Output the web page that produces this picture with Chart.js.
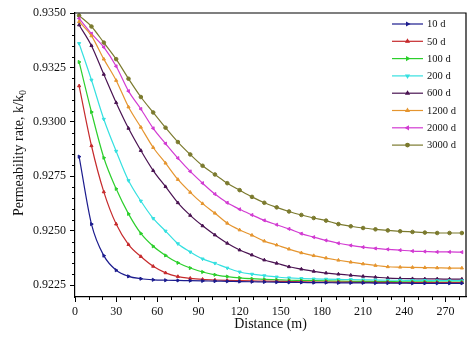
<!DOCTYPE html>
<html>
<head>
<meta charset="utf-8">
<script src="https://cdn.jsdelivr.net/npm/chart.js@4.4.0/dist/chart.umd.min.js"></script>
<style>
html, body { margin: 0; padding: 0; background: #fff; }
</style>
</head>
<body>
<canvas id="chart" width="474" height="341"></canvas>
<script>
// distance along the profile (m)
const distance = [3, 12, 21, 30, 39, 48, 57, 66, 75, 84, 93, 102, 111, 120, 129, 138,
    147, 156, 165, 174, 183, 192, 201, 210, 219, 228, 237, 246, 255, 264, 273, 282];

const seriesNames = ['10 d', '50 d', '100 d', '200 d', '600 d', '1200 d', '2000 d', '3000 d'];

// permeability rate k/k0
const d10 = [0.92840, 0.92530, 0.92385, 0.92318, 0.92290, 0.92279, 0.92274, 0.92272, 0.92271, 0.92270,
    0.92269, 0.92268, 0.92267, 0.92266, 0.92265, 0.92264, 0.92263, 0.92262, 0.92262, 0.92261,
    0.92261, 0.92260, 0.92260, 0.92260, 0.92259, 0.92259, 0.92259, 0.92258, 0.92258, 0.92258, 0.92258, 0.92258];
const d50 = [0.93165, 0.92890, 0.92678, 0.92530, 0.92436, 0.92381, 0.92336, 0.92306, 0.92289, 0.92281,
    0.92276, 0.92273, 0.92271, 0.92270, 0.92269, 0.92268, 0.92267, 0.92266, 0.92265, 0.92264,
    0.92264, 0.92263, 0.92263, 0.92262, 0.92262, 0.92262, 0.92261, 0.92261, 0.92261, 0.92261, 0.92261, 0.92261];
const d100 = [0.93275, 0.93045, 0.92835, 0.92692, 0.92577, 0.92487, 0.92428, 0.92386, 0.92352, 0.92328,
    0.92310, 0.92297, 0.92289, 0.92283, 0.92279, 0.92276, 0.92274, 0.92272, 0.92271, 0.92270,
    0.92269, 0.92268, 0.92267, 0.92267, 0.92266, 0.92266, 0.92265, 0.92265, 0.92265, 0.92264, 0.92264, 0.92264];
const d200 = [0.93360, 0.93192, 0.93012, 0.92865, 0.92730, 0.92636, 0.92556, 0.92498, 0.92440, 0.92402,
    0.92370, 0.92350, 0.92328, 0.92310, 0.92300, 0.92293, 0.92287, 0.92283, 0.92280, 0.92278,
    0.92277, 0.92276, 0.92275, 0.92274, 0.92273, 0.92272, 0.92272, 0.92271, 0.92271, 0.92270, 0.92270, 0.92270];
const d600 = [0.93445, 0.93350, 0.93218, 0.93088, 0.92970, 0.92868, 0.92776, 0.92702, 0.92628, 0.92570,
    0.92522, 0.92480, 0.92442, 0.92411, 0.92388, 0.92365, 0.92350, 0.92334, 0.92323, 0.92313,
    0.92305, 0.92300, 0.92295, 0.92290, 0.92286, 0.92282, 0.92280, 0.92279, 0.92278, 0.92278, 0.92277, 0.92277];
const d1200 = [0.93460, 0.93395, 0.93288, 0.93190, 0.93068, 0.92975, 0.92882, 0.92810, 0.92735, 0.92676,
    0.92624, 0.92580, 0.92534, 0.92503, 0.92479, 0.92452, 0.92434, 0.92415, 0.92398, 0.92385,
    0.92374, 0.92364, 0.92355, 0.92347, 0.92340, 0.92334, 0.92332, 0.92331, 0.92330, 0.92329, 0.92328, 0.92328];
const d2000 = [0.93475, 0.93405, 0.93343, 0.93255, 0.93141, 0.93059, 0.92970, 0.92900, 0.92833, 0.92772,
    0.92718, 0.92668, 0.92628, 0.92598, 0.92572, 0.92547, 0.92527, 0.92508, 0.92486, 0.92470,
    0.92455, 0.92442, 0.92432, 0.92424, 0.92418, 0.92414, 0.92410, 0.92406, 0.92404, 0.92402, 0.92402, 0.92401];
const d3000 = [0.93488, 0.93438, 0.93364, 0.93288, 0.93198, 0.93114, 0.93043, 0.92973, 0.92907, 0.92850,
    0.92798, 0.92758, 0.92718, 0.92686, 0.92655, 0.92628, 0.92607, 0.92588, 0.92572, 0.92558,
    0.92546, 0.92530, 0.92520, 0.92512, 0.92506, 0.92501, 0.92497, 0.92494, 0.92491, 0.92489, 0.92489, 0.92489];

const xTicks = [0, 30, 60, 90, 120, 150, 180, 210, 240, 270];
const yTicks = [0.9225, 0.9250, 0.9275, 0.9300, 0.9325, 0.9350];

const allSeries = [d10, d50, d100, d200, d600, d1200, d2000, d3000];
const colors = ['#1c1c8e', '#c62a2c', '#2ccf2c', '#35e0e0', '#4a1352', '#e5952f', '#d23bd2', '#7b7a2e'];
const shapes = ['triangle', 'triangle', 'triangle', 'triangle', 'triangle', 'triangle', 'triangle', 'circle'];
const rotations = [90, 0, 90, 180, 0, 0, 270, 0];

const serif = "'Liberation Serif', 'Times New Roman', serif";

const datasets = allSeries.map((vals, i) => ({
    label: seriesNames[i],
    data: vals.map((v, j) => ({ x: distance[j], y: v })),
    borderColor: colors[i],
    backgroundColor: colors[i],
    borderWidth: 1.2,
    pointStyle: shapes[i],
    rotation: rotations[i],
    pointRadius: 1.8,
    pointBorderWidth: 1,
    cubicInterpolationMode: 'monotone',
    fill: false
}));

// box, minor ticks, legend and axis titles
const extras = {
    id: 'extras',
    afterDraw(chart) {
        const ctx = chart.ctx;
        const a = chart.chartArea;
        const xs = chart.scales.x, ys = chart.scales.y;
        ctx.save();
        ctx.strokeStyle = '#000';
        ctx.lineWidth = 1.2;
        ctx.beginPath();
        ctx.moveTo(a.left, a.top);
        ctx.lineTo(a.right, a.top);
        ctx.lineTo(a.right, a.bottom);
        ctx.stroke();

        // minor ticks
        ctx.lineWidth = 1;
        ctx.beginPath();
        for (let v = 10; v < 285; v += 10) {
            if (v % 30 === 0) continue;
            const px = Math.round(xs.getPixelForValue(v)) + 0.5;
            ctx.moveTo(px, a.bottom);
            ctx.lineTo(px, a.bottom + 3);
        }
        for (let k = 0; k <= 25; k++) {
            if (k % 5 === 0) continue;
            const v = 0.9225 + k * 0.0005;
            const py = Math.round(ys.getPixelForValue(v)) + 0.5;
            ctx.moveTo(a.left, py);
            ctx.lineTo(a.left - 3, py);
        }
        ctx.stroke();

        // legend
        ctx.font = '10.5px ' + serif;
        ctx.textBaseline = 'middle';
        ctx.textAlign = 'left';
        chart.data.datasets.forEach((ds, i) => {
            const y = 24 + i * 17.3;
            ctx.strokeStyle = ds.borderColor;
            ctx.lineWidth = 1.2;
            ctx.beginPath();
            ctx.moveTo(392, y);
            ctx.lineTo(423, y);
            ctx.stroke();
            ctx.fillStyle = ds.backgroundColor;
            Chart.helpers.drawPoint(ctx, {
                pointStyle: ds.pointStyle, rotation: ds.rotation, radius: 1.8, borderWidth: 1
            }, 407.5, y);
            ctx.fillStyle = '#111';
            ctx.fillText(ds.label, 427, y + 0.5);
        });

        // axis titles
        ctx.fillStyle = '#111';
        ctx.font = '14px ' + serif;
        ctx.textAlign = 'center';
        ctx.fillText('Distance (m)', (a.left + a.right) / 2, 324);

        ctx.translate(19, 153);
        ctx.rotate(-Math.PI / 2);
        const main = 'Permeability rate, k/k';
        const wMain = ctx.measureText(main).width;
        ctx.font = '10px ' + serif;
        const wSub = ctx.measureText('0').width;
        const start = -(wMain + wSub) / 2;
        ctx.textAlign = 'left';
        ctx.font = '14px ' + serif;
        ctx.fillText(main, start, 0);
        ctx.font = '10px ' + serif;
        ctx.fillText('0', start + wMain, 4);
        ctx.restore();
    }
};

new Chart(document.getElementById('chart').getContext('2d'), {
    type: 'line',
    data: { datasets: datasets },
    options: {
        responsive: false,
        animation: false,
        layout: { padding: { top: 13, right: 8, left: 0, bottom: 0 } },
        plugins: {
            legend: { display: false },
            tooltip: { enabled: false }
        },
        scales: {
            x: {
                type: 'linear',
                min: 0,
                max: 285,
                afterBuildTicks: s => { s.ticks = xTicks.map(v => ({ value: v })); },
                afterFit: s => { s.height = 44; },
                ticks: {
                    autoSkip: false,
                    maxRotation: 0,
                    padding: 3,
                    color: '#111',
                    font: { family: serif, size: 12 }
                },
                grid: { drawOnChartArea: false, tickLength: 5, color: '#000', tickWidth: 1 },
                border: { color: '#000', width: 1.2 }
            },
            y: {
                type: 'linear',
                min: 0.92195,
                max: 0.9350,
                afterBuildTicks: s => { s.ticks = yTicks.map(v => ({ value: v })); },
                afterFit: s => { s.width = 75; },
                ticks: {
                    autoSkip: false,
                    padding: 4,
                    color: '#111',
                    font: { family: serif, size: 12 },
                    callback: v => v.toFixed(4)
                },
                grid: { drawOnChartArea: false, tickLength: 5, color: '#000', tickWidth: 1 },
                border: { color: '#000', width: 1.2 }
            }
        }
    },
    plugins: [extras]
});
</script>
</body>
</html>
